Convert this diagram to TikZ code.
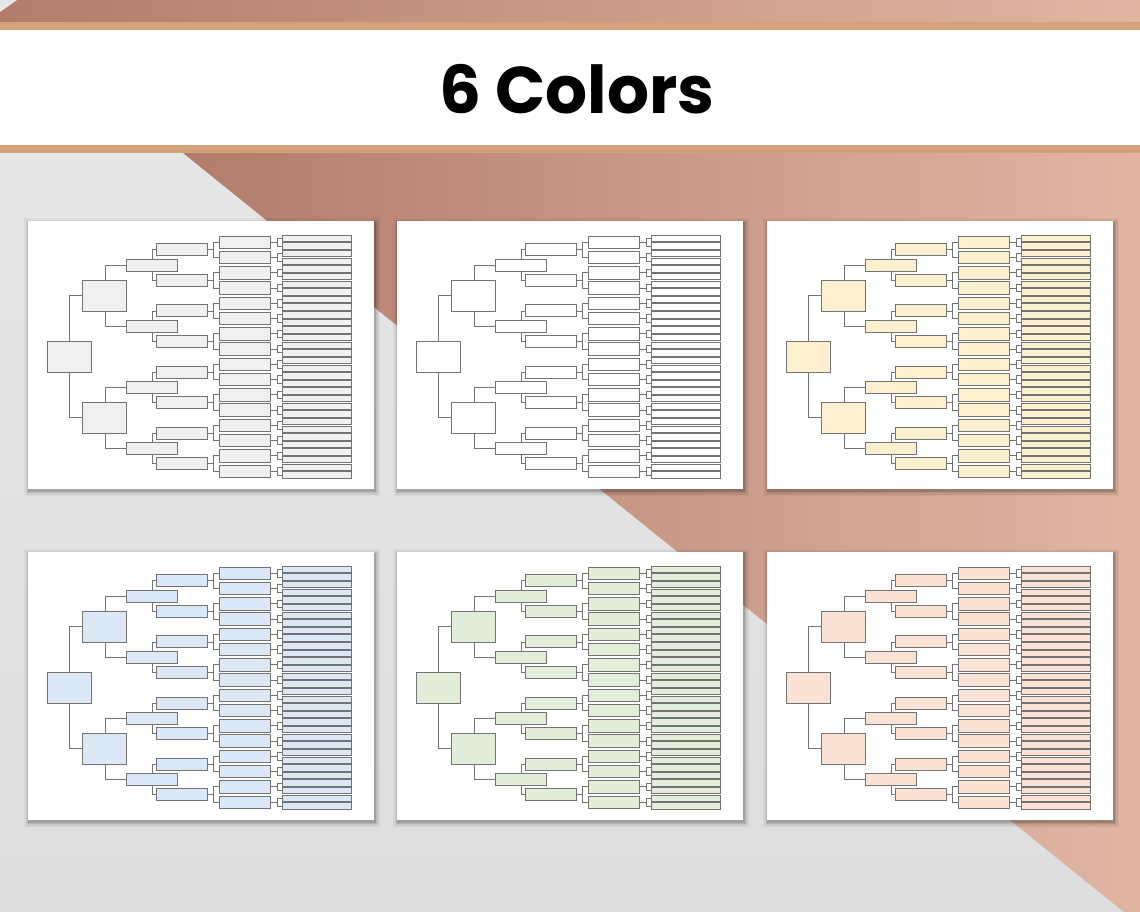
\documentclass[tikz,border=0pt]{standalone}
\usepackage{fontspec}
\setmainfont{Poppins}
\begin{document}
\begin{tikzpicture}[x=1pt,y=-1pt,
  ln/.style={draw=black!55,line width=0.55pt},
  bx/.style={draw=black!55,line width=0.6pt}]
\definecolor{rosyA}{HTML}{B37C6B}
\definecolor{rosyB}{HTML}{E0B6A3}
\definecolor{tan}{HTML}{D3A27D}
\useasboundingbox (0,0) rectangle (1140,912);
% background
\shade[top color=gray!18,bottom color=gray!26] (0,0) rectangle (1140,912);
\shade[left color=rosyA,right color=rosyB] (183,153) -- (1140,153) -- (1140,925) -- cycle;
\shade[left color=rosyA,right color=rosyB] (0,0) rectangle (1140,22);
\fill[gray!18] (0,0) -- (17,0) -- (0,12) -- cycle;
\fill[tan] (0,22) rectangle (1140,30);
\fill[white] (0,30) rectangle (1140,145);
\fill[tan] (0,145) rectangle (1140,153);
\node[font=\bfseries\fontsize{66}{66}\selectfont,text=black] (title) at (577,89) {6 Colors};
% card macro
\newcommand{\famcard}[3]{%
\begin{scope}[shift={(#1,#2)}]
  \foreach \e/\o in {5/0.04,3.5/0.06,2/0.09,1/0.12}
    \fill[black,opacity=\o] (-\e+1,-\e+2) rectangle (346+\e+1,268+\e+2);
  \fill[white] (0,0) rectangle (346,268);
  \def\p{7.63}\def\s{17.3}
  % connectors
  \foreach \j in {0,...,15}{
    \pgfmathsetmacro\yc{\s+\p*(2*\j+0.5)}
    \draw[ln] (242,\yc) -- (249,\yc) (249,\yc-3.815) -- (249,\yc+3.815)
      (249,\yc-3.815) -- (254,\yc-3.815) (249,\yc+3.815) -- (254,\yc+3.815);}
  \foreach \k in {0,...,7}{
    \pgfmathsetmacro\yc{\s+\p*(4*\k+1.5)}
    \draw[ln] (179,\yc) -- (185,\yc) (185,\yc-7.63) -- (185,\yc+7.63)
      (185,\yc-7.63) -- (191,\yc-7.63) (185,\yc+7.63) -- (191,\yc+7.63);}
  \foreach \m in {0,...,3}{
    \pgfmathsetmacro\yc{\s+\p*(8*\m+3.5)}
    \draw[ln] (124,\yc-15.26) -- (124,\yc+15.26)
      (124,\yc-15.26) -- (128,\yc-15.26) (124,\yc+15.26) -- (128,\yc+15.26);}
  \foreach \n in {0,1}{
    \pgfmathsetmacro\yc{\s+\p*(16*\n+7.5)}
    \draw[ln] (77,\yc-30.52) -- (77,\yc+30.52)
      (77,\yc-30.52) -- (98,\yc-30.52) (77,\yc+30.52) -- (98,\yc+30.52);}
  \draw[ln] (41,74.5) -- (41,196.6) (41,74.5) -- (54,74.5) (41,196.6) -- (54,196.6);
  % boxes
  \foreach \i in {0,...,31}{
    \pgfmathsetmacro\yc{\s+\p*\i}
    \draw[bx,fill=#3] (254,\yc-3.2) rectangle (323,\yc+3.2);}
  \foreach \j in {0,...,15}{
    \pgfmathsetmacro\yc{\s+\p*(2*\j+0.5)}
    \draw[bx,fill=#3] (191,\yc-6.2) rectangle (242,\yc+6.2);}
  \foreach \k in {0,...,7}{
    \pgfmathsetmacro\yc{\s+\p*(4*\k+1.5)}
    \draw[bx,fill=#3] (128,\yc-6) rectangle (179,\yc+6);}
  \foreach \m in {0,...,3}{
    \pgfmathsetmacro\yc{\s+\p*(8*\m+3.5)}
    \draw[bx,fill=#3] (98,\yc-6) rectangle (149,\yc+6);}
  \foreach \n in {0,1}{
    \pgfmathsetmacro\yc{\s+\p*(16*\n+7.5)}
    \draw[bx,fill=#3] (54,\yc-15.5) rectangle (98,\yc+15.5);}
  \draw[bx,fill=#3] (19,120) rectangle (63,151);
\end{scope}}
\definecolor{cGray}{HTML}{F0F0F0}
\definecolor{cYel}{HTML}{FDF0CF}
\definecolor{cBlue}{HTML}{DDE8F7}
\definecolor{cGreen}{HTML}{E2EEDA}
\definecolor{cPeach}{HTML}{FAE3D4}
\famcard{28}{221}{cGray}
\famcard{397}{221}{white}
\famcard{767}{221}{cYel}
\famcard{28}{552}{cBlue}
\famcard{397}{552}{cGreen}
\famcard{767}{552}{cPeach}
\end{tikzpicture}
\end{document}
